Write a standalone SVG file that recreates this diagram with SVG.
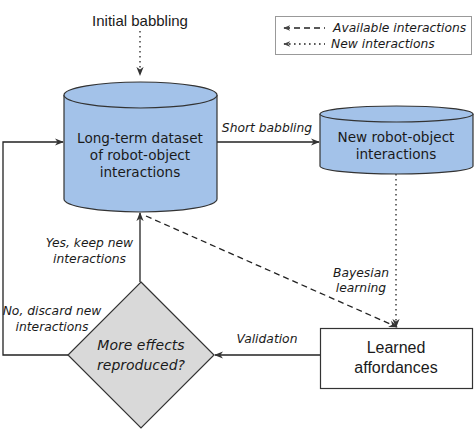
<svg xmlns="http://www.w3.org/2000/svg" width="474" height="430" viewBox="0 0 474 430">
<defs>
<style>
.cyl{fill:#a3c2e9;stroke:#333;stroke-width:1.2}
.ln{fill:none;stroke:#222;stroke-width:1.3}
.dot{stroke-dasharray:1.6 3.4}
.dash{stroke-dasharray:6 4}
.t{font-family:"DejaVu Sans",sans-serif;fill:#1a1a1a;text-anchor:middle}
.i{font-family:"DejaVu Sans",sans-serif;font-style:italic;fill:#1a1a1a;text-anchor:middle;font-size:12.3px}
.a{font-family:"Liberation Sans",Arial,sans-serif;fill:#1a1a1a;text-anchor:middle}
</style>
<marker id="ah" viewBox="0 0 10 10" refX="9" refY="5" markerWidth="9" markerHeight="9" markerUnits="userSpaceOnUse" orient="auto">
<path d="M0,1 L10,5 L0,9 L3,5 Z" fill="#333"/>
</marker>
<marker id="as" viewBox="0 0 10 10" refX="9" refY="5" markerWidth="7" markerHeight="7" markerUnits="userSpaceOnUse" orient="auto-start-reverse">
<path d="M0,1 L10,5 L0,9 L3,5 Z" fill="#444"/>
</marker>
</defs>
<rect width="474" height="430" fill="#fff"/>

<g id="legend">
<rect x="275.5" y="16.5" width="196" height="38" fill="#fff" stroke="#999" stroke-width="1"/>
<line x1="284" y1="28" x2="325" y2="28" class="ln dash" stroke-width="1" marker-start="url(#as)"/>
<line x1="284" y1="44" x2="325" y2="44" class="ln dot" stroke-width="1" marker-start="url(#as)"/>
<text x="333" y="32" class="i" style="text-anchor:start">Available interactions</text>
<text x="331" y="48" class="i" style="text-anchor:start">New interactions</text>
</g>

<g id="connectors">
<line x1="140" y1="31" x2="140" y2="75" class="ln dot" marker-end="url(#ah)"/>
<line x1="217" y1="142" x2="319" y2="142" class="ln" marker-end="url(#ah)"/>
<path d="M68,355 H3 V142 H63" class="ln" marker-end="url(#ah)"/>
<line x1="140" y1="282" x2="140" y2="213" class="ln" marker-end="url(#ah)"/>
<line x1="146" y1="216" x2="397" y2="327" class="ln dash" marker-end="url(#ah)"/>
<line x1="396" y1="174" x2="396" y2="327" class="ln dot" marker-end="url(#ah)"/>
<line x1="320" y1="355" x2="215" y2="355" class="ln" marker-end="url(#ah)"/>
<text x="267" y="132" class="i">Short babbling</text>
<text x="89.5" y="247" class="i">Yes, keep new</text>
<text x="89.5" y="263" class="i">interactions</text>
<text x="52" y="315" class="i">No, discard new</text>
<text x="52" y="331" class="i">interactions</text>
<text x="361" y="277" class="i">Bayesian</text>
<text x="361" y="292" class="i">learning</text>
<text x="267" y="343" class="i">Validation</text>
</g>

<g id="initial">
<text x="140" y="26" class="a" font-size="15">Initial babbling</text>
</g>

<g id="dataset">
<path d="M64,95 V199 A76.5,13 0 0 0 217,199 V95" class="cyl"/>
<ellipse cx="140.5" cy="95" rx="76.5" ry="13" class="cyl"/>
<text x="140" y="143" class="t" font-size="13.6">Long-term dataset</text>
<text x="140" y="160" class="t" font-size="13.6">of robot-object</text>
<text x="140" y="177" class="t" font-size="13.6">interactions</text>
</g>

<g id="newdata">
<path d="M320,114 V166 A76.5,8 0 0 0 473,166 V114" class="cyl"/>
<ellipse cx="396.5" cy="114" rx="76.5" ry="8" class="cyl"/>
<text x="396" y="142" class="t" font-size="13.6">New robot-object</text>
<text x="396" y="159" class="t" font-size="13.6">interactions</text>
</g>

<g id="decision">
<path d="M141,282 L214,355 L141,428 L68,355 Z" fill="#d9d9d9" stroke="#333" stroke-width="1.2"/>
<text x="141" y="350" class="i" font-size="14" style="font-size:14px">More effects</text>
<text x="141" y="370" class="i" style="font-size:14px">reproduced?</text>
</g>

<g id="affordances">
<rect x="320.5" y="328.5" width="152" height="60" fill="#fff" stroke="#333" stroke-width="1.2"/>
<text x="396" y="353" class="a" font-size="16">Learned</text>
<text x="396" y="373" class="a" font-size="16">affordances</text>
</g>
</svg>
